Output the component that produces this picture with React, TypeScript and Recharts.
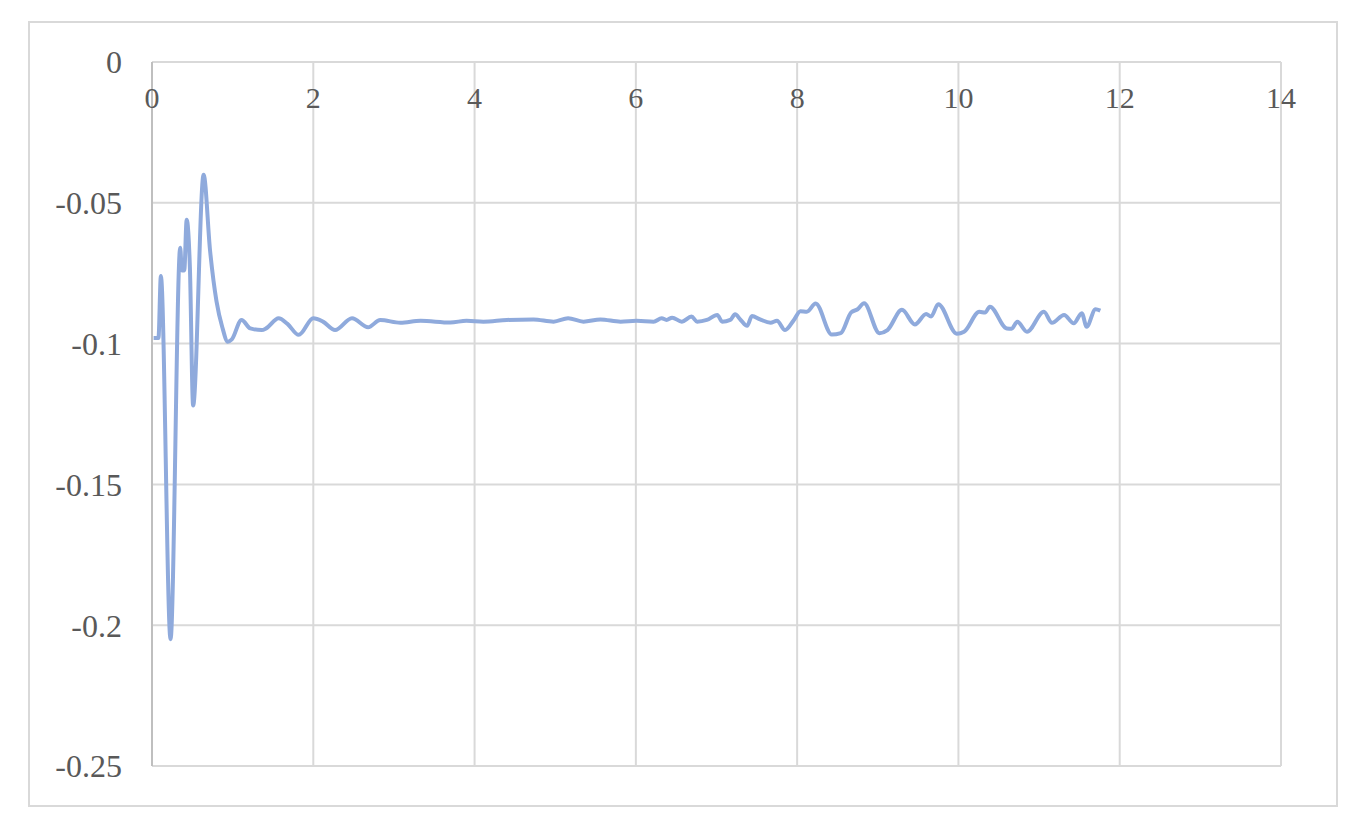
import React from "react";
import { LineChart, Line, XAxis, YAxis, CartesianGrid } from "recharts";

// time values (x)
const xValues = [
  0.02, 0.08, 0.11, 0.23, 0.35, 0.37, 0.4, 0.43, 0.47, 0.51, 0.64, 0.72, 0.8,
  0.87, 0.94, 0.99, 1.11, 1.22, 1.36, 1.42, 1.57, 1.68, 1.82, 2.0, 2.12, 2.27,
  2.48, 2.68, 2.83, 3.08, 3.33, 3.7, 3.9, 4.11, 4.4, 4.73, 4.98, 5.16, 5.35,
  5.56, 5.81, 6.01, 6.22, 6.32, 6.38, 6.45, 6.57, 6.69, 6.76, 6.88, 7.01, 7.07,
  7.17, 7.23, 7.3, 7.38, 7.44, 7.54, 7.67, 7.75, 7.85, 7.96, 8.04, 8.12, 8.23,
  8.43, 8.54, 8.67, 8.75, 8.83, 9.02, 9.12, 9.3, 9.46, 9.6, 9.66, 9.75, 9.98,
  10.07, 10.26, 10.33, 10.39, 10.6, 10.66, 10.73, 10.85, 11.06, 11.16, 11.31,
  11.43, 11.53, 11.59, 11.7, 11.76,
];

// measured values (y)
const yValues = [
  -0.098, -0.098, -0.076, -0.205, -0.066, -0.074, -0.074, -0.056, -0.073,
  -0.122, -0.04, -0.067, -0.085, -0.094, -0.0993, -0.0985, -0.0916, -0.0946,
  -0.0952, -0.0945, -0.091, -0.093, -0.0969, -0.091, -0.0922, -0.0952, -0.091,
  -0.0942, -0.0916, -0.0926, -0.0919, -0.0925, -0.0919, -0.0922, -0.0916,
  -0.0914, -0.0922, -0.091, -0.0922, -0.0914, -0.0922, -0.0919, -0.0922,
  -0.091, -0.0916, -0.0908, -0.0922, -0.0904, -0.0922, -0.0916, -0.0898,
  -0.0922, -0.0916, -0.0896, -0.0916, -0.0937, -0.0902, -0.0914, -0.0926,
  -0.0919, -0.0952, -0.0916, -0.0885, -0.0887, -0.0858, -0.0968, -0.0963,
  -0.0889, -0.0878, -0.0857, -0.0963, -0.0952, -0.088, -0.0932, -0.0895,
  -0.0904, -0.086, -0.0965, -0.0958, -0.0887, -0.089, -0.0869, -0.0946,
  -0.0947, -0.0922, -0.0958, -0.0887, -0.0926, -0.0898, -0.0928, -0.0892,
  -0.094, -0.0878, -0.0883,
];

const xTicks = [0, 2, 4, 6, 8, 10, 12, 14];
const yTicks = [0, -0.05, -0.1, -0.15, -0.2, -0.25];

const data = xValues.map((x, i) => ({ x, y: yValues[i] }));

const FONT = '"Liberation Serif", "Times New Roman", serif';
const TEXT = "#595959";

// x labels sit under the axis line, which runs along the top
const TopTick = (props: any) => {
  const { x, y, payload } = props;
  return (
    <text
      x={x}
      y={y}
      dy={46}
      textAnchor="middle"
      fill={TEXT}
      fontFamily={FONT}
      fontSize={30}
    >
      {payload.value}
    </text>
  );
};

export default function App() {
  return (
    <div style={{ position: "absolute", left: 0, top: 0, width: 1360, height: 820 }}>
      <div
        style={{
          position: "absolute",
          left: 28,
          top: 21,
          width: 1310,
          height: 786,
          boxSizing: "border-box",
          border: "2px solid #d9d9d9",
        }}
      />
      <div style={{ position: "absolute", left: 0, top: 0 }}>
        <LineChart
          width={1360}
          height={820}
          data={data}
          margin={{ top: 22, right: 79, bottom: 54, left: 52 }}
        >
          <CartesianGrid stroke="#d9d9d9" strokeWidth={2} />
          <XAxis
            dataKey="x"
            type="number"
            orientation="top"
            domain={[0, 14]}
            ticks={xTicks}
            height={40}
            tickSize={0}
            tickMargin={0}
            tickLine={false}
            axisLine={{ stroke: "#d9d9d9", strokeWidth: 2 }}
            tick={<TopTick />}
            allowDataOverflow
          />
          <YAxis
            type="number"
            domain={[-0.25, 0]}
            ticks={yTicks}
            width={100}
            tickSize={0}
            tickMargin={30}
            tickLine={false}
            axisLine={{ stroke: "#bfbfbf", strokeWidth: 2 }}
            tickFormatter={(v: number) => String(+v.toFixed(2))}
            tick={{ fill: TEXT, fontFamily: FONT, fontSize: 32 }}
            allowDataOverflow
          />
          <Line
            type="monotone"
            dataKey="y"
            stroke="#8faadc"
            strokeWidth={4}
            dot={false}
            isAnimationActive={false}
          />
        </LineChart>
      </div>
    </div>
  );
}
